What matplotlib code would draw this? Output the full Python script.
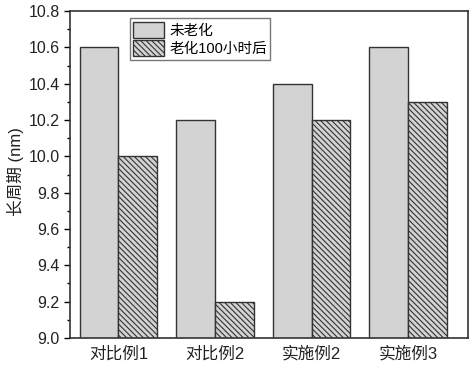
import matplotlib
matplotlib.use('Agg')
import matplotlib.pyplot as plt
import numpy as np

plt.rcParams['font.family'] = ['Liberation Sans', 'Noto Sans CJK SC']
plt.rcParams['hatch.color'] = '#333333'
plt.rcParams['hatch.linewidth'] = 0.8

categories = ['对比例1', '对比例2', '实施例2', '实施例3']
unaged = [10.6, 10.2, 10.4, 10.6]
aged = [10.0, 9.2, 10.2, 10.3]
labels = ['未老化', '老化100小时后']

x = np.arange(len(categories))
w = 0.4

fig = plt.figure(figsize=(4.74, 3.68), dpi=100)
ax = fig.add_axes([70/474, 30/368, 398/474, 327/368])

ax.bar(x - w/2, unaged, w, color='#d3d3d3', edgecolor='#333333',
       linewidth=1.0, label=labels[0])
ax.bar(x + w/2, aged, w, color='#d3d3d3', edgecolor='#333333',
       linewidth=1.0, hatch='\\\\\\\\\\\\', label=labels[1])

ax.set_ylim(9.0, 10.8)
ax.set_xlim(-0.5, 3.62)
ticks = np.arange(9.0, 10.81, 0.2)
ax.set_yticks(ticks)
ax.set_yticklabels(['%.1f' % v for v in ticks], fontsize=11.5, color='#222222')
ax.yaxis.set_minor_locator(plt.MultipleLocator(0.1))
ax.tick_params(axis='y', which='major', length=4, width=1, direction='out')
ax.tick_params(axis='y', which='minor', length=2.5, width=1, direction='out')
ax.set_xticks(x)
ax.set_xticklabels(categories, fontsize=12, color='#222222')
ax.tick_params(axis='x', length=0, pad=6)
ax.set_ylabel('长周期 (nm)', fontsize=12, color='#222222', va='center')
ax.yaxis.set_label_coords(-0.138, 0.51)
for s in ax.spines.values():
    s.set_linewidth(1.2)
    s.set_color('#333333')

leg = ax.legend(loc='upper left', bbox_to_anchor=(0.15, 0.978), fontsize=10.5,
                frameon=True, fancybox=False, edgecolor='#555555',
                handlelength=2.1, handleheight=1.35, borderpad=0.25,
                labelspacing=0.12, handletextpad=0.35, borderaxespad=0)
leg.get_frame().set_linewidth(1.0)

fig.savefig('out.png', dpi=100)
